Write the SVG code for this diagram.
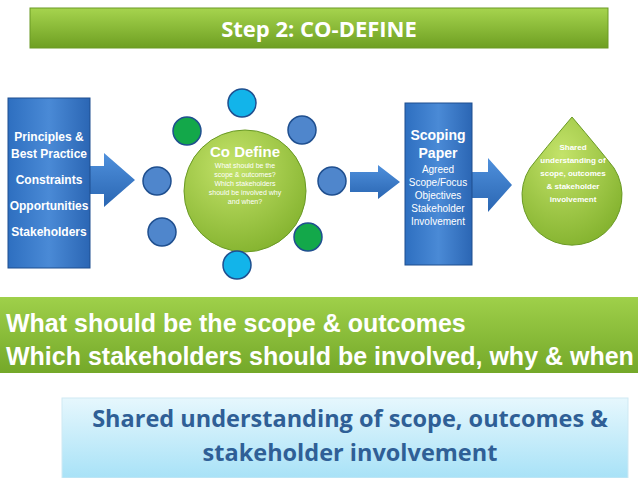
<svg xmlns="http://www.w3.org/2000/svg" width="638" height="478" viewBox="0 0 638 478">
<defs>
<linearGradient id="gTitle" x1="0" y1="0" x2="0" y2="1"><stop offset="0" stop-color="#a6d44e"/><stop offset="1" stop-color="#6e9f22"/></linearGradient>
<linearGradient id="gBan" x1="0" y1="0" x2="0" y2="1"><stop offset="0" stop-color="#9fd04a"/><stop offset="1" stop-color="#74a829"/></linearGradient>
<linearGradient id="gBlue" x1="0" y1="0" x2="1" y2="0"><stop offset="0" stop-color="#2e6fc0"/><stop offset="0.5" stop-color="#4a8ad6"/><stop offset="1" stop-color="#2b66b4"/></linearGradient>
<linearGradient id="gArr" x1="0" y1="0" x2="0" y2="1"><stop offset="0" stop-color="#4f90dc"/><stop offset="1" stop-color="#2a66b2"/></linearGradient>
<linearGradient id="gBot" x1="0" y1="0" x2="0" y2="1"><stop offset="0" stop-color="#e6f7fd"/><stop offset="1" stop-color="#a8e2f7"/></linearGradient>
<radialGradient id="gGreen" cx="0.4" cy="0.3" r="0.8"><stop offset="0" stop-color="#c4e36a"/><stop offset="1" stop-color="#7faf2a"/></radialGradient>
</defs>
<style>
.w{fill:#fff;font-family:"Liberation Sans",Arial,sans-serif;font-weight:bold}
.wn{fill:#fff;font-family:"Liberation Sans",Arial,sans-serif}
.cb{fill:#4f86cc;stroke:#1f4f8f;stroke-width:1.5}
.cl{fill:#12b4ea;stroke:#1f4f8f;stroke-width:1.5}
.cg{fill:#13a84a;stroke:#1f4f8f;stroke-width:1.5}
.arr{fill:url(#gArr)}
.bt{fill:#2f5f96;font-family:"Open Sans","DejaVu Sans",sans-serif;font-weight:bold;font-size:23.5px}
</style>
<g id="title"><rect x="30" y="8" width="578" height="40" fill="url(#gTitle)" stroke="#6a9a25"/><text x="319" y="37" class="w" font-size="22" text-anchor="middle" style="font-family:'Open Sans',sans-serif">Step 2: CO-DEFINE</text></g>
<g id="connectors">
<polygon class="arr" points="88,166 104,166 104,153 135,180 104,207 104,194 88,194"/>
<polygon class="arr" points="350,172 378,172 378,165 400,182 378,199 378,192 350,192"/>
<polygon class="arr" points="470,172 488,172 488,158 512,185 488,212 488,198 470,198"/>
</g>
<g id="inputs"><rect x="8" y="98" width="82" height="170" fill="url(#gBlue)" stroke="#1f4f8f"/>
<text class="w" font-size="12" text-anchor="middle"><tspan x="49" y="141">Principles &amp;</tspan><tspan x="49" y="158">Best Practice</tspan><tspan x="49" y="184">Constraints</tspan><tspan x="49" y="210">Opportunities</tspan><tspan x="49" y="236">Stakeholders</tspan></text></g>
<g id="codefine"><circle cx="245" cy="191" r="61" fill="url(#gGreen)" stroke="#6a9a25"/>
<text x="245" y="157" class="w" font-size="15" text-anchor="middle">Co Define</text>
<text class="wn" font-size="7" text-anchor="middle"><tspan x="245" y="168">What should be the</tspan><tspan x="245" y="177">scope &amp; outcomes?</tspan><tspan x="245" y="186">Which stakeholders</tspan><tspan x="245" y="195">should be involved why</tspan><tspan x="245" y="204">and when?</tspan></text></g>
<g id="s1"><circle class="cl" cx="242" cy="103" r="14"/></g>
<g id="s2"><circle class="cg" cx="187" cy="131" r="14"/></g>
<g id="s3"><circle class="cb" cx="302" cy="130" r="14"/></g>
<g id="s4"><circle class="cb" cx="157" cy="181" r="14"/></g>
<g id="s5"><circle class="cb" cx="332" cy="181" r="14"/></g>
<g id="s6"><circle class="cb" cx="162" cy="232" r="14"/></g>
<g id="s7"><circle class="cg" cx="308" cy="237" r="14"/></g>
<g id="s8"><circle class="cl" cx="237" cy="265" r="14"/></g>
<g id="scoping"><rect x="405" y="103" width="67" height="162" fill="url(#gBlue)" stroke="#1f4f8f"/>
<text class="w" font-size="14" text-anchor="middle"><tspan x="438" y="140">Scoping</tspan><tspan x="438" y="158">Paper</tspan></text>
<text class="wn" font-size="10" text-anchor="middle"><tspan x="438" y="173">Agreed</tspan><tspan x="438" y="186">Scope/Focus</tspan><tspan x="438" y="199">Objectives</tspan><tspan x="438" y="212">Stakeholder</tspan><tspan x="438" y="225">Involvement</tspan></text></g>
<g id="outcome"><path d="M572,117 Q600,150 614,168 A50,50 0 1 1 530,168 Q544,150 572,117 Z" fill="url(#gGreen)" stroke="#6a9a25"/>
<text class="w" font-size="8" text-anchor="middle"><tspan x="573" y="150">Shared</tspan><tspan x="573" y="163">understanding of</tspan><tspan x="573" y="176">scope, outcomes</tspan><tspan x="573" y="189">&amp; stakeholder</tspan><tspan x="573" y="202">involvement</tspan></text></g>
<g id="banner"><rect x="0" y="297" width="638" height="76" fill="url(#gBan)"/>
<text class="w" font-size="25"><tspan x="6" y="332">What should be the scope &amp; outcomes</tspan><tspan x="6" y="365">Which stakeholders should be involved, why &amp; when</tspan></text></g>
<g id="summary"><rect x="62" y="398" width="566" height="80" fill="url(#gBot)" stroke="#cfe9f3"/>
<text class="bt" text-anchor="middle"><tspan x="350" y="427">Shared understanding of scope, outcomes &amp;</tspan><tspan x="350" y="461">stakeholder involvement</tspan></text></g>
</svg>
